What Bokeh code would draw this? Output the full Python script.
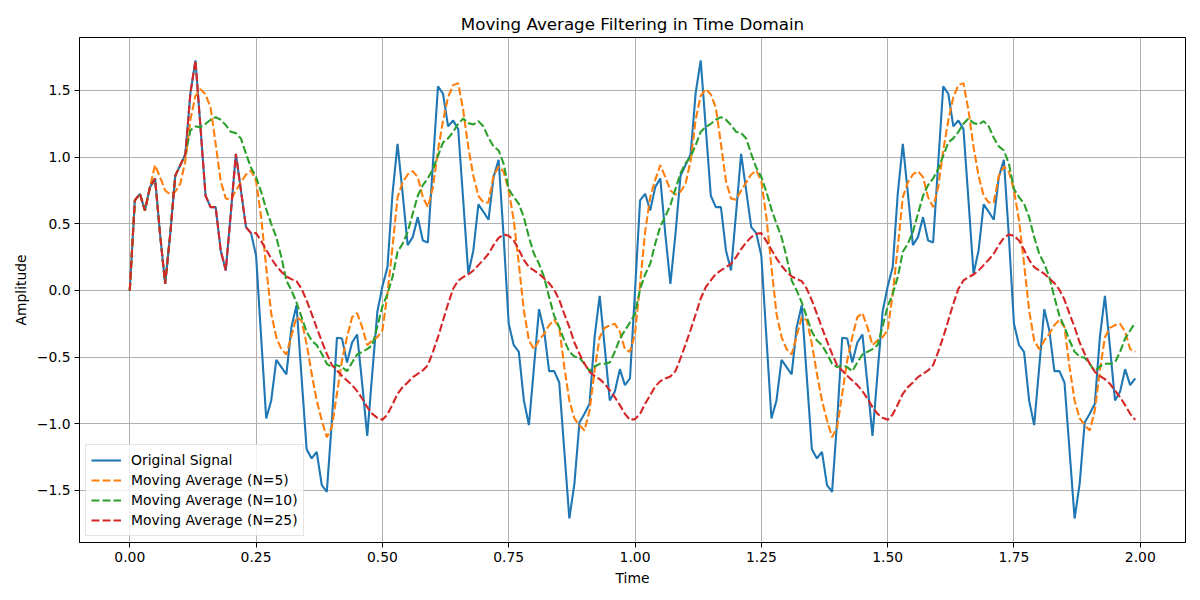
import numpy as np
from bokeh.plotting import figure
from bokeh.models import FixedTicker, Range1d, Legend, LegendItem
from bokeh.embed import file_html
from bokeh.resources import INLINE

# ---- data (sample step 0.01 s, 200 samples) ----
sample_step = 0.01
n_samples = 200

# one period (1 s = 100 samples) of the original signal; the picture repeats it twice
signal_period = [
    0.00, 0.675, 0.725, 0.60, 0.775, 0.84, 0.42, 0.05, 0.42, 0.86,
    0.94, 1.02, 1.48, 1.725, 1.22, 0.71, 0.625, 0.625, 0.30, 0.15,
    0.58, 1.025, 0.75, 0.475, 0.43, 0.26, -0.35, -0.96, -0.825, -0.52,
    -0.575, -0.63, -0.275, -0.11, -0.65, -1.19, -1.26, -1.21, -1.46, -1.51,
    -0.98, -0.355, -0.36, -0.54, -0.39, -0.33, -0.70, -1.09, -0.62, -0.16,
    0.03, 0.175, 0.725, 1.10, 0.73, 0.34, 0.40, 0.55, 0.375, 0.36,
    0.95, 1.53, 1.475, 1.23, 1.275, 1.21, 0.675, 0.125, 0.30, 0.645,
    0.59, 0.53, 0.85, 0.98, 0.40, -0.25, -0.41, -0.46, -0.825, -1.01,
    -0.575, -0.14, -0.30, -0.605, -0.605, -0.69, -1.20, -1.71, -1.45, -0.99,
    -0.925, -0.85, -0.35, -0.04, -0.425, -0.825, -0.76, -0.59, -0.71, -0.66,
]

# Moving average N=5
ma5_head_first = [0.00, 0.675, 0.725, 0.60, 0.775]
ma5_head_second = [-0.325, 0.05, 0.44, 0.70, 0.83]
ma5_body = [
    0.94, 0.85, 0.75, 0.72, 0.74, 0.80, 0.97, 1.28, 1.46, 1.51,
    1.47, 1.37, 1.10, 0.82, 0.69, 0.68, 0.75, 0.81, 0.87, 0.90,
    0.82, 0.55, 0.175, -0.175, -0.35, -0.44, -0.48, -0.34, -0.20, -0.225,
    -0.40, -0.625, -0.825, -0.975, -1.10, -1.025, -0.775, -0.525, -0.35, -0.20,
    -0.17, -0.275, -0.41, -0.375, -0.35, -0.30, -0.025, 0.325, 0.70, 0.81,
    0.87, 0.895, 0.85, 0.70, 0.625, 0.775, 1.05, 1.275, 1.45, 1.54,
    1.555, 1.35, 1.075, 0.86, 0.71, 0.66, 0.66, 0.86, 0.93, 0.89,
    0.75, 0.525, 0.20, -0.15, -0.375, -0.44, -0.375, -0.325, -0.26, -0.22,
    -0.275, -0.575, -0.825, -0.96, -1.01, -1.05, -0.90, -0.60, -0.35, -0.28,
    -0.26, -0.25, -0.31, -0.44, -0.46,
]

# Moving average N=10
ma10_head_first = [0.00, 0.675, 0.725, 0.60, 0.775, 0.84, 0.42, 0.05, 0.42, 0.86, 0.94, 1.02]
ma10_head_second = [-0.175, 0.01, 0.12, 0.20, 0.35, 0.48, 0.555, 0.64, 0.76, 0.88, 0.955, 1.00, 1.09, 1.19]
ma10_body = [
    1.20, 1.23, 1.225, 1.25, 1.28, 1.30, 1.28, 1.24, 1.19, 1.18,
    1.14, 1.025, 0.92, 0.85, 0.74, 0.61, 0.50, 0.40, 0.25, 0.075,
    0.00, -0.09, -0.20, -0.31, -0.375, -0.41, -0.475, -0.55, -0.575, -0.56,
    -0.575, -0.605, -0.54, -0.48, -0.46, -0.44, -0.41, -0.27, -0.12, -0.025,
    0.10, 0.29, 0.35, 0.44, 0.575, 0.71, 0.79, 0.84, 0.91, 1.01,
    1.11, 1.14, 1.19, 1.25, 1.29, 1.255, 1.245, 1.27, 1.23, 1.145,
    1.08, 1.05, 0.95, 0.76, 0.70, 0.65, 0.55, 0.40, 0.275, 0.20,
    0.10, -0.05, -0.19, -0.275, -0.375, -0.46, -0.495, -0.505, -0.55, -0.605,
    -0.57, -0.55, -0.55, -0.54, -0.46, -0.36, -0.30, -0.24,
]

# Moving average N=25
ma25_head_first = [
    0.00, 0.675, 0.725, 0.60, 0.775, 0.84, 0.42, 0.05, 0.42, 0.86,
    0.94, 1.02, 1.48, 1.725, 1.22, 0.71, 0.625, 0.625, 0.30, 0.15,
    0.58, 1.025, 0.75, 0.475, 0.43,
]
ma25_head_second = [
    -0.965, -0.925, -0.85, -0.785, -0.72, -0.68, -0.66, -0.645, -0.605, -0.51,
    -0.405, -0.295, -0.18, -0.06, 0.025, 0.075, 0.125, 0.15, 0.175, 0.20,
    0.25, 0.31, 0.36, 0.40, 0.425,
]
ma25_body = [
    0.43, 0.37, 0.305, 0.24, 0.185, 0.14, 0.105, 0.085, 0.07, 0.0125,
    -0.075, -0.175, -0.28, -0.38, -0.475, -0.56, -0.60, -0.64, -0.675, -0.71,
    -0.755, -0.81, -0.875, -0.925, -0.955, -0.97, -0.93, -0.855, -0.775, -0.725,
    -0.69, -0.65, -0.625, -0.60, -0.56, -0.46, -0.35, -0.225, -0.10, 0.0125,
    0.075, 0.10, 0.12, 0.15, 0.19, 0.23, 0.275, 0.34, 0.395, 0.42,
    0.41, 0.375, 0.305, 0.23, 0.175, 0.15, 0.125, 0.09, 0.055, 0.005,
    -0.07, -0.175, -0.275, -0.39, -0.475, -0.55, -0.61, -0.64, -0.665, -0.70,
    -0.75, -0.80, -0.86, -0.925, -0.97,
]

x_ticks = [0.0, 0.25, 0.5, 0.75, 1.0, 1.25, 1.5, 1.75, 2.0]
x_tick_labels = ["0.00", "0.25", "0.50", "0.75", "1.00", "1.25", "1.50", "1.75", "2.00"]
y_ticks = [-1.5, -1.0, -0.5, 0.0, 0.5, 1.0, 1.5]
y_tick_labels = ["\u22121.5", "\u22121.0", "\u22120.5", "0.0", "0.5", "1.0", "1.5"]

series_labels = ["Original Signal", "Moving Average (N=5)", "Moving Average (N=10)", "Moving Average (N=25)"]

# ---- assemble series ----
t = np.arange(n_samples) * sample_step
signal = signal_period + signal_period
ma5 = ma5_head_first + ma5_body + ma5_head_second + ma5_body
ma10 = ma10_head_first + ma10_body + ma10_head_second + ma10_body[2:]
ma25 = ma25_head_first + ma25_body + ma25_head_second + ma25_body

FONT = "DejaVu Sans"

p = figure(width=1190, height=588, output_backend="svg", toolbar_location=None,
           x_range=Range1d(-0.0995, 2.0895), y_range=Range1d(-1.89, 1.897),
           min_border_left=79, min_border_right=5, min_border_top=37, min_border_bottom=46)

p.title.text = "Moving Average Filtering in Time Domain"
p.title.align = "center"
p.title.text_font = FONT
p.title.text_font_size = "16.7px"
p.title.text_font_style = "normal"
p.title.text_color = "black"
p.title.offset = 0
p.title.standoff = 8

p.background_fill_color = "white"
p.border_fill_color = "white"
p.outline_line_color = "black"
p.outline_line_width = 1

for g in (p.xgrid, p.ygrid):
    g.grid_line_color = "#b0b0b0"
    g.grid_line_width = 1
p.xgrid.ticker = FixedTicker(ticks=x_ticks)
p.ygrid.ticker = FixedTicker(ticks=y_ticks)

p.xaxis.ticker = FixedTicker(ticks=x_ticks)
p.yaxis.ticker = FixedTicker(ticks=y_ticks)
p.xaxis.major_label_overrides = {v: s for v, s in zip(x_ticks, x_tick_labels)}
p.yaxis.major_label_overrides = {v: s for v, s in zip(y_ticks, y_tick_labels)}
p.xaxis.axis_label = "Time"
p.yaxis.axis_label = "Amplitude"
for ax in (p.xaxis, p.yaxis):
    ax.axis_label_text_font = FONT
    ax.axis_label_text_font_size = "13.9px"
    ax.axis_label_text_font_style = "normal"
    ax.axis_label_text_color = "black"
    ax.major_label_text_font = FONT
    ax.major_label_text_font_size = "13.9px"
    ax.major_label_text_color = "black"
    ax.major_tick_in = 0
    ax.major_tick_out = 5
    ax.minor_tick_in = 0
    ax.minor_tick_out = 0
    ax.axis_line_color = "black"
    ax.major_tick_line_color = "black"
    ax.major_label_standoff = 4
p.xaxis.axis_label_standoff = 5
p.yaxis.axis_label_standoff = 5

colors = ["#1f77b4", "#ff7f0e", "#2ca02c", "#d62728"]
dashes = ["solid", "8 3", "8 3", "8 3"]
renderers = []
for ys, c, d in zip([signal, ma5, ma10, ma25], colors, dashes):
    r = p.line(t, ys, line_color=c, line_width=2.1, line_dash=d)
    renderers.append(r)

legend = Legend(items=[LegendItem(label=l, renderers=[r]) for l, r in zip(series_labels, renderers)],
                location="bottom_left")
legend.label_text_font = FONT
legend.label_text_font_size = "13.9px"
legend.label_text_color = "black"
legend.border_line_color = "#cccccc"
legend.border_line_width = 1
legend.background_fill_alpha = 0.8
legend.margin = 6
legend.padding = 5
legend.spacing = 0
legend.glyph_width = 30
legend.glyph_height = 20
legend.label_height = 20
legend.label_standoff = 10
p.add_layout(legend)

open("out.html", "w").write(file_html(p, INLINE))
